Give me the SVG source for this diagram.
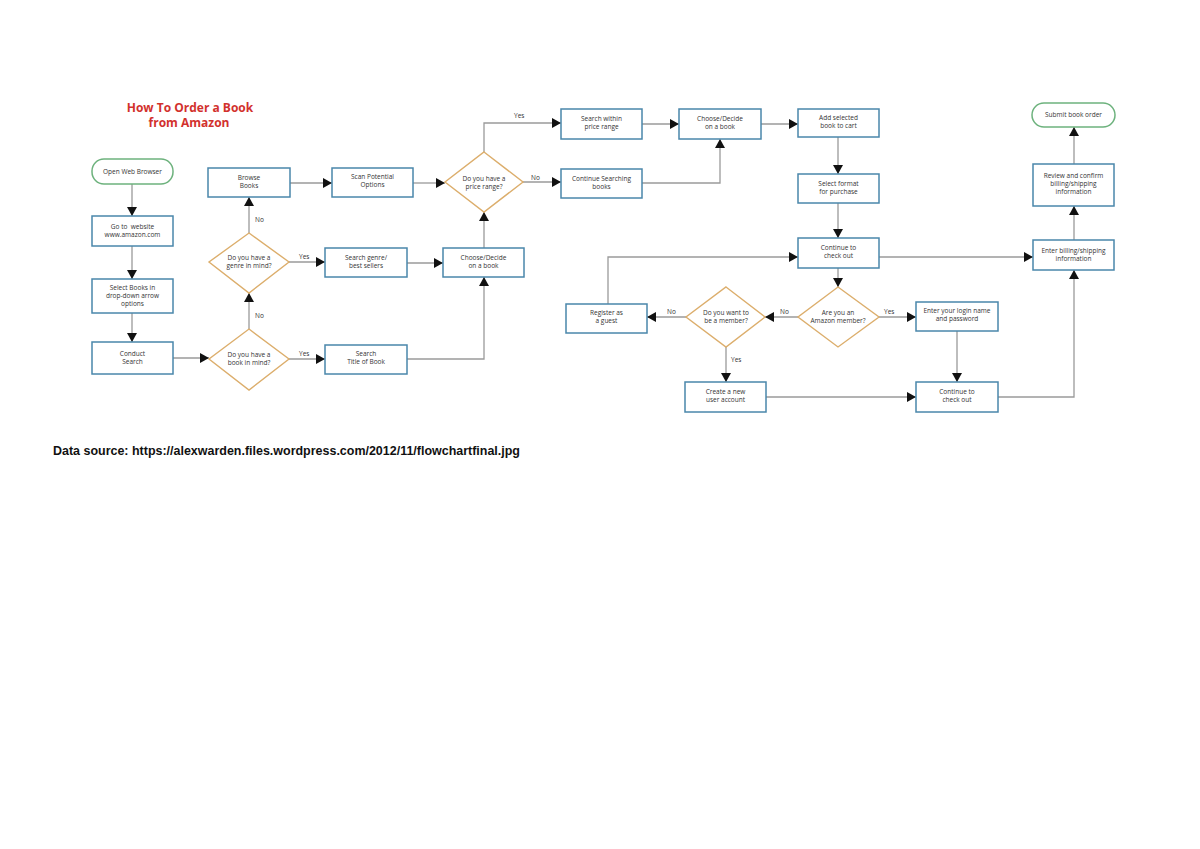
<svg xmlns="http://www.w3.org/2000/svg" width="1200" height="849" viewBox="0 0 1200 849">
<style>
.box{fill:#fff;stroke:#4a87ab;stroke-width:1.5}
.term{fill:#fff;stroke:#6db27d;stroke-width:1.5}
.dia{fill:#fff;stroke:#dcae6c;stroke-width:1.4}
.t{font-family:"Open Sans","Liberation Sans",sans-serif;font-size:6.5px;fill:#333;text-anchor:middle;white-space:pre}
.lbl{font-family:"Open Sans","Liberation Sans",sans-serif;font-size:6.5px;fill:#333}
.c{fill:none;stroke:#9a9a9a;stroke-width:1.3;marker-end:url(#ah)}
.title{font-family:"Open Sans","Liberation Sans",sans-serif;font-weight:bold;font-size:12px;fill:#d2312d;text-anchor:middle}
</style>
<defs>
<marker id="ah" markerUnits="userSpaceOnUse" markerWidth="9" markerHeight="10" refX="9" refY="5" orient="auto">
<path d="M0,0 L9,5 L0,10 z" fill="#111"/>
</marker>
</defs>
<rect width="1200" height="849" fill="#fff"/>
<g id="title">
<text class="title" x="190" y="112">How To Order a Book</text>
<text class="title" x="189" y="127">from Amazon</text>
</g>
<g id="connectors">
<path class="c" d="M132,184 V216"/>
<path class="c" d="M132,246 V279"/>
<path class="c" d="M132,313 V342"/>
<path class="c" d="M173,358 H209"/>
<path class="c" d="M249,329 V293"/>
<path class="c" d="M289,359 H325"/>
<path class="c" d="M249,233 V197"/>
<path class="c" d="M289,262 H325"/>
<path class="c" d="M290,183 H332"/>
<path class="c" d="M413,183 H445"/>
<path class="c" d="M407,263 H443"/>
<path class="c" d="M407,359 H484 V277"/>
<path class="c" d="M484,248 V212"/>
<path class="c" d="M484,152 V123 H561"/>
<path class="c" d="M523,182 H561"/>
<path class="c" d="M642,124 H679"/>
<path class="c" d="M642,183 H720 V139"/>
<path class="c" d="M761,124 H798"/>
<path class="c" d="M838,137 V174"/>
<path class="c" d="M838,203 V238"/>
<path class="c" d="M838,268 V287"/>
<path class="c" d="M798,317 H765"/>
<path class="c" d="M879,317 H916"/>
<path class="c" d="M686,317 H647"/>
<path class="c" d="M726,347 V382"/>
<path class="c" d="M608,304 V257 H798"/>
<path class="c" d="M766,397 H916"/>
<path class="c" d="M957,331 V382"/>
<path class="c" d="M879,257 H1033"/>
<path class="c" d="M998,397 H1074 V270"/>
<path class="c" d="M1074,240 V206"/>
<path class="c" d="M1074,164 V127"/>
<text class="lbl" x="255" y="318">No</text>
<text class="lbl" x="299" y="356">Yes</text>
<text class="lbl" x="255" y="222">No</text>
<text class="lbl" x="299" y="259">Yes</text>
<text class="lbl" x="514" y="118">Yes</text>
<text class="lbl" x="531" y="180">No</text>
<text class="lbl" x="780" y="314">No</text>
<text class="lbl" x="884" y="314">Yes</text>
<text class="lbl" x="667" y="314">No</text>
<text class="lbl" x="731" y="362">Yes</text>
</g>
<g id="n-open"><rect class="term" x="92" y="159" width="81" height="25" rx="12"/><text class="t" x="132.5" y="173.5">Open Web Browser</text></g>
<g id="n-goto"><rect class="box" x="92" y="216" width="81" height="30"/><text class="t" x="132.5" y="229" xml:space="preserve">Go to  website</text><text class="t" x="132.5" y="237">www.amazon.com</text></g>
<g id="n-select"><rect class="box" x="92" y="279" width="81" height="34"/><text class="t" x="132.5" y="290">Select Books in</text><text class="t" x="132.5" y="298">drop-down arrow</text><text class="t" x="132.5" y="306">options</text></g>
<g id="n-conduct"><rect class="box" x="92" y="342" width="81" height="32"/><text class="t" x="132.5" y="356">Conduct</text><text class="t" x="132.5" y="364">Search</text></g>
<g id="d-book"><path class="dia" d="M249,329 L289,359 L249,390 L209,359 z"/><text class="t" x="249" y="357">Do you have a</text><text class="t" x="249" y="365">book in mind?</text></g>
<g id="d-genre"><path class="dia" d="M249,233 L289,262 L249,293 L209,262 z"/><text class="t" x="249" y="260">Do you have a</text><text class="t" x="249" y="268">genre in mind?</text></g>
<g id="n-browse"><rect class="box" x="208" y="168" width="82" height="29"/><text class="t" x="249" y="180">Browse</text><text class="t" x="249" y="188">Books</text></g>
<g id="n-scan"><rect class="box" x="332" y="168" width="81" height="29"/><text class="t" x="372.5" y="179">Scan Potential</text><text class="t" x="372.5" y="187">Options</text></g>
<g id="n-sgenre"><rect class="box" x="325" y="248" width="82" height="29"/><text class="t" x="366" y="260">Search genre/</text><text class="t" x="366" y="268">best sellers</text></g>
<g id="n-stitle"><rect class="box" x="325" y="345" width="82" height="29"/><text class="t" x="366" y="356">Search</text><text class="t" x="366" y="364">Title of Book</text></g>
<g id="n-choose1"><rect class="box" x="443" y="248" width="81" height="29"/><text class="t" x="483.5" y="260">Choose/Decide</text><text class="t" x="483.5" y="268">on a book</text></g>
<g id="d-price"><path class="dia" d="M484,152 L523,182 L484,212 L445,182 z"/><text class="t" x="484" y="181">Do you have a</text><text class="t" x="484" y="189">price range?</text></g>
<g id="n-within"><rect class="box" x="561" y="109" width="81" height="30"/><text class="t" x="601.5" y="121">Search within</text><text class="t" x="601.5" y="129">price range</text></g>
<g id="n-contsearch"><rect class="box" x="561" y="169" width="81" height="29"/><text class="t" x="601.5" y="181">Continue Searching</text><text class="t" x="601.5" y="189">books</text></g>
<g id="n-choose2"><rect class="box" x="679" y="109" width="82" height="30"/><text class="t" x="720" y="121">Choose/Decide</text><text class="t" x="720" y="129">on a book</text></g>
<g id="n-add"><rect class="box" x="798" y="109" width="81" height="28"/><text class="t" x="838.5" y="120">Add selected</text><text class="t" x="838.5" y="128">book to cart</text></g>
<g id="n-format"><rect class="box" x="798" y="174" width="81" height="29"/><text class="t" x="838.5" y="186">Select format</text><text class="t" x="838.5" y="194">for purchase</text></g>
<g id="n-checkout1"><rect class="box" x="798" y="238" width="81" height="30"/><text class="t" x="838.5" y="250">Continue to</text><text class="t" x="838.5" y="258">check out</text></g>
<g id="d-member"><path class="dia" d="M838,287 L879,317 L838,347 L798,317 z"/><text class="t" x="838" y="315">Are you an</text><text class="t" x="838" y="323">Amazon member?</text></g>
<g id="d-want"><path class="dia" d="M726,287 L765,317 L726,347 L686,317 z"/><text class="t" x="726" y="315">Do you want to</text><text class="t" x="726" y="323">be a member?</text></g>
<g id="n-guest"><rect class="box" x="566" y="304" width="81" height="29"/><text class="t" x="606.5" y="315">Register as</text><text class="t" x="606.5" y="323">a guest</text></g>
<g id="n-create"><rect class="box" x="685" y="382" width="81" height="30"/><text class="t" x="725.5" y="394">Create a new</text><text class="t" x="725.5" y="402">user account</text></g>
<g id="n-login"><rect class="box" x="916" y="302" width="82" height="29"/><text class="t" x="957" y="313">Enter your login name</text><text class="t" x="957" y="321">and password</text></g>
<g id="n-checkout2"><rect class="box" x="916" y="382" width="82" height="30"/><text class="t" x="957" y="394">Continue to</text><text class="t" x="957" y="402">check out</text></g>
<g id="n-billing"><rect class="box" x="1033" y="240" width="81" height="30"/><text class="t" x="1073.5" y="253">Enter billing/shipping</text><text class="t" x="1073.5" y="261">information</text></g>
<g id="n-review"><rect class="box" x="1033" y="164" width="81" height="42"/><text class="t" x="1073.5" y="178">Review and confirm</text><text class="t" x="1073.5" y="186">billing/shipping</text><text class="t" x="1073.5" y="194">information</text></g>
<g id="n-submit"><rect class="term" x="1032" y="103" width="83" height="24" rx="12"/><text class="t" x="1073.5" y="117">Submit book order</text></g>
<g id="source"><text x="53" y="455" font-family="Liberation Sans, sans-serif" font-weight="bold" font-size="12" fill="#111" textLength="467" lengthAdjust="spacingAndGlyphs">Data source: https://alexwarden.files.wordpress.com/2012/11/flowchartfinal.jpg</text></g>
</svg>
